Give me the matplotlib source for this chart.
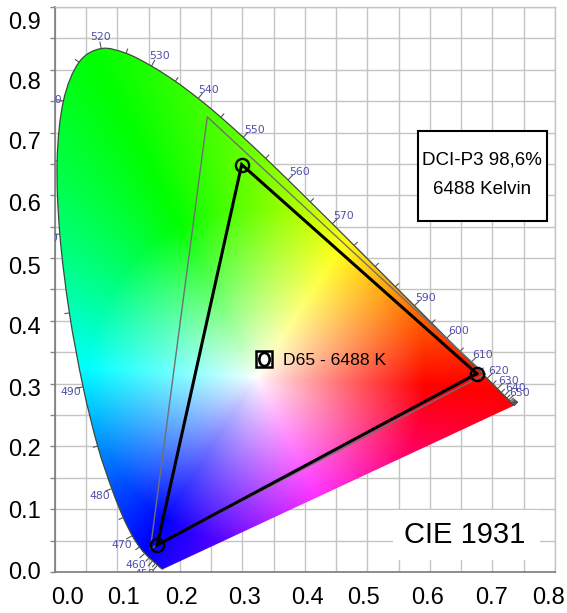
import numpy as np
import matplotlib
matplotlib.use('Agg')
import matplotlib.pyplot as plt
from matplotlib.patches import Rectangle, PathPatch
from matplotlib.path import Path
from matplotlib.transforms import Affine2D
from matplotlib.colors import hsv_to_rgb

plt.rcParams['font.family'] = ['Liberation Sans', 'DejaVu Sans']

# ---------------- data ----------------
wavelengths = list(range(380, 705, 5))
locus_x = [0.1741, 0.1740, 0.1738, 0.1736, 0.1733, 0.1730, 0.1726, 0.1721, 0.1714, 0.1703,
           0.1689, 0.1669, 0.1644, 0.1611, 0.1566, 0.1510, 0.1440, 0.1355, 0.1241, 0.1096,
           0.0913, 0.0687, 0.0454, 0.0235, 0.0082, 0.0039, 0.0139, 0.0389, 0.0743, 0.1142,
           0.1547, 0.1929, 0.2296, 0.2658, 0.3016, 0.3373, 0.3731, 0.4087, 0.4441, 0.4788,
           0.5125, 0.5448, 0.5752, 0.6029, 0.6270, 0.6482, 0.6658, 0.6801, 0.6915, 0.7006,
           0.7079, 0.7140, 0.7190, 0.7230, 0.7260, 0.7283, 0.7300, 0.7311, 0.7320, 0.7327,
           0.7334, 0.7340, 0.7344, 0.7346, 0.7347]
locus_y = [0.0050, 0.0050, 0.0049, 0.0049, 0.0048, 0.0048, 0.0048, 0.0048, 0.0051, 0.0058,
           0.0069, 0.0086, 0.0109, 0.0138, 0.0177, 0.0227, 0.0297, 0.0399, 0.0578, 0.0868,
           0.1327, 0.2007, 0.2950, 0.4127, 0.5384, 0.6548, 0.7502, 0.8120, 0.8338, 0.8262,
           0.8059, 0.7816, 0.7543, 0.7243, 0.6923, 0.6589, 0.6245, 0.5896, 0.5547, 0.5202,
           0.4866, 0.4544, 0.4242, 0.3965, 0.3725, 0.3514, 0.3340, 0.3197, 0.3083, 0.2993,
           0.2920, 0.2859, 0.2809, 0.2770, 0.2740, 0.2717, 0.2700, 0.2689, 0.2680, 0.2673,
           0.2666, 0.2660, 0.2656, 0.2654, 0.2653]
labeled_wl = [440, 450, 460, 470, 480, 490, 500, 510, 520, 530, 540, 550, 560, 570,
              590, 600, 610, 620, 630, 640, 650]

gamut_names = ['R', 'G', 'B']
measured_x = [0.675, 0.299, 0.164]
measured_y = [0.316, 0.649, 0.043]
reference_x = [0.688, 0.244, 0.153]
reference_y = [0.315, 0.725, 0.037]
white_x = [0.3346]
white_y = [0.339]

x_tick_labels = ['0.0', '0.1', '0.2', '0.3', '0.4', '0.5', '0.6', '0.7', '0.8']
x_tick_pos = [0.0205, 0.1103, 0.2031, 0.3027, 0.4042, 0.4945, 0.5968, 0.6987, 0.7903]
y_tick_labels = ['0.0', '0.1', '0.2', '0.3', '0.4', '0.5', '0.6', '0.7', '0.8', '0.9']
y_tick_pos = [0.0016, 0.1003, 0.199, 0.2946, 0.393, 0.4889, 0.589, 0.688, 0.783, 0.8787]

info_text = 'DCI-P3 98,6%\n6488 Kelvin'
wp_text = 'D65 - 6488 K'
title_text = 'CIE 1931'

# ---------------- figure ----------------
W, H = 567, 613
fig = plt.figure(figsize=(W / 100, H / 100), dpi=100)
L, R, T, B = 54.7, 555.0, 7.0, 572.0
ax = fig.add_axes([L / W, (H - B) / H, (R - L) / W, (B - T) / H])
ax.set_xlim(0, 0.8)
ax.set_ylim(0, 0.9)

def px2ax(px, py):
    return ((px - L) / (R - L), (B - py) / (B - T))

# grid at 0.05
ax.set_xticks(np.arange(0, 0.801, 0.05), minor=True)
ax.set_yticks(np.arange(0, 0.901, 0.05), minor=True)
ax.grid(which='minor', color='#c4c4c4', lw=1.0)
ax.set_axisbelow(True)
ax.set_xticks(x_tick_pos, x_tick_labels)
ax.set_yticks(y_tick_pos, y_tick_labels)
ax.tick_params(which='major', length=0, labelsize=17, colors='black')
ax.tick_params(axis='x', which='major', pad=10.5)
ax.tick_params(axis='y', which='major', pad=9.9)
ax.tick_params(axis='x', which='minor', length=0)
ax.tick_params(axis='y', which='minor', length=3.5, color='#888888', width=1)
for s in ['left', 'bottom']:
    ax.spines[s].set_color('#7a7a7a')
    ax.spines[s].set_linewidth(1.2)
for s in ['top', 'right']:
    ax.spines[s].set_color('#c4c4c4')
    ax.spines[s].set_linewidth(1.0)

# ---------------- chromaticity colours: hue wheel around the white centre ----------------
nx, ny = 800, 900
gx = np.linspace(0, 0.8, nx)
gy = np.linspace(0, 0.9, ny)
XX, YY = np.meshgrid(gx, gy)
cx_w, cy_w = 0.322, 0.31
dx = XX - cx_w
dy = YY - cy_w
hue = ((np.degrees(np.arctan2(dy, dx)) + 3.0) % 360) / 360.0
dist = np.hypot(dx, dy)
sat = np.clip(dist / 0.27, 0, 1) ** 0.85
hsv = np.stack([hue, sat, np.ones_like(hue)], axis=-1)
img = hsv_to_rgb(hsv)

# smooth locus path (Catmull-Rom rendered as cubic Bezier)
lx = np.array(locus_x)
ly = np.array(locus_y)
P = np.column_stack([lx, ly])
Pe = np.vstack([P[:1], P, P[-1:]])
verts = [P[0]]
codes = [Path.MOVETO]
for i in range(len(P) - 1):
    p0, p1, p2, p3 = Pe[i], Pe[i + 1], Pe[i + 2], Pe[i + 3]
    verts += [p1 + (p2 - p0) / 6, p2 - (p3 - p1) / 6, p2]
    codes += [Path.CURVE4] * 3
open_path = Path(verts, codes)
closed_path = Path(verts + [P[0], P[0]], codes + [Path.LINETO, Path.CLOSEPOLY])

clip_patch = PathPatch(closed_path, facecolor='none', edgecolor='none', transform=ax.transData)
ax.add_patch(clip_patch)
im = ax.imshow(img, origin='lower', extent=[0, 0.8, 0, 0.9], aspect='auto',
               interpolation='bilinear', zorder=1)
im.set_clip_path(clip_patch)
ax.add_patch(PathPatch(open_path, facecolor='none', edgecolor='#3c4a3c', lw=0.9, zorder=2))

# ticks & wavelength labels
tx = np.gradient(lx)
ty = np.gradient(ly)
nrm = np.hypot(tx, ty)
nxv = -ty / nrm
nyv = tx / nrm
unit = 1 / 626.0
for i, w in enumerate(wavelengths):
    if w < 440:
        continue
    ln = 7 if w in labeled_wl else 5
    ax.plot([lx[i], lx[i] + nxv[i] * ln * unit], [ly[i], ly[i] + nyv[i] * ln * unit],
            color='#555555', lw=0.8, zorder=2, solid_capstyle='butt')
    if w in labeled_wl:
        off = 14
        ax.annotate(str(w), (lx[i], ly[i]), xytext=(nxv[i] * off + 1.5, nyv[i] * off - 2.5),
                    textcoords='offset pixels', ha='center', va='center',
                    fontsize=7.8, color='#4f4fa8', family='DejaVu Sans',
                    annotation_clip=False, clip_on=True, zorder=3)

# gamut triangles
ax.plot(reference_x + reference_x[:1], reference_y + reference_y[:1],
        color='#707070', lw=1.0, zorder=4)
ax.plot(measured_x + measured_x[:1], measured_y + measured_y[:1],
        color='black', lw=2.2, zorder=5, solid_joinstyle='miter')
ax.plot(measured_x, measured_y, 'o', ms=9.5, mfc='none', mec='black', mew=1.7, zorder=6)

# white point
ax.plot(white_x, white_y, 's', ms=12, mfc='white', mec='black', mew=1.8, zorder=6)
ell = Path.unit_circle().transformed(Affine2D().scale(0.78, 1.0))
ax.plot(white_x, white_y, marker=ell, ms=9.5, mfc='white', mec='black', mew=1.9, zorder=7)
ax.annotate(wp_text, (white_x[0], white_y[0]), xytext=(19, -1.5), textcoords='offset pixels',
            ha='left', va='center', fontsize=12.6, color='black', zorder=7)

# info box
bx0, by0 = px2ax(417.7, 220.7)
bx1, by1 = px2ax(546.7, 130.7)
ax.add_patch(Rectangle((bx0, by0), bx1 - bx0, by1 - by0, transform=ax.transAxes,
                       facecolor='white', edgecolor='black', lw=1.5, zorder=8))
cx, cy = px2ax(482, 175)
ax.text(cx, cy, info_text, transform=ax.transAxes, ha='center', va='center',
        fontsize=13.5, linespacing=2.0, zorder=9)

# CIE 1931 label
cx0, cy0 = px2ax(393, 560)
cx1, cy1 = px2ax(540, 510)
ax.add_patch(Rectangle((cx0, cy0), cx1 - cx0, cy1 - cy0, transform=ax.transAxes,
                       facecolor='white', edgecolor='none', zorder=8))
tx0, ty0 = px2ax(465, 535)
ax.text(tx0, ty0, title_text, transform=ax.transAxes, ha='center', va='center',
        fontsize=21, zorder=9)

fig.savefig('out.png', dpi=100)
